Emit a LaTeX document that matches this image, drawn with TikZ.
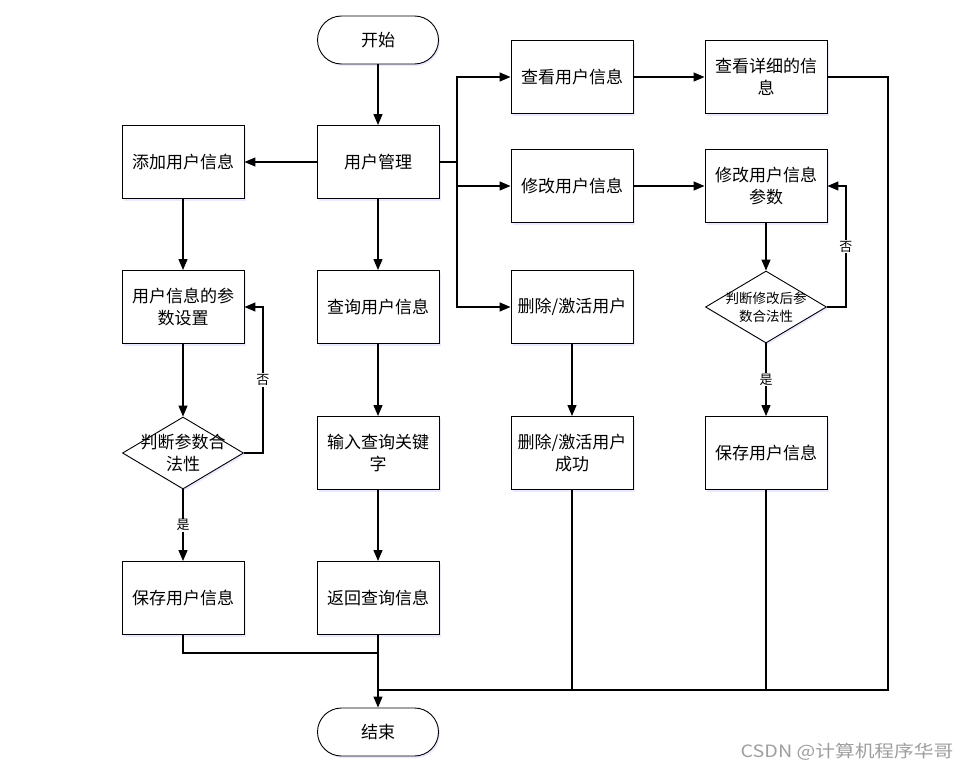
\documentclass[tikz,border=0pt]{standalone}
\usepackage{fontspec}
\setmainfont{Noto Sans CJK SC}
\usepackage{tikz}
\usetikzlibrary{arrows.meta, shapes.geometric, shadows}

\begin{document}
\begin{tikzpicture}[x=1pt, y=-1pt,
        every node/.style={font=\fontsize{17}{22}\selectfont},
        box/.style={draw, line width=0.9pt, fill=white, minimum width=122pt, minimum height=73pt, align=center, inner sep=2pt,
                drop shadow={shadow xshift=1.5pt, shadow yshift=-2pt, fill=blue!25, opacity=0.35}},
        term/.style={box, minimum width=121pt, minimum height=48pt, rounded corners=24pt},
        decision/.style={diamond, draw, line width=0.9pt, fill=white, minimum width=121pt, minimum height=72pt, inner sep=0pt,
                drop shadow={shadow xshift=1.5pt, shadow yshift=-2pt, fill=blue!25, opacity=0.35}},
        lab/.style={fill=white, inner sep=1pt, font=\fontsize{13}{15}\selectfont},
        line/.style={line width=1.3pt},
        arr/.style={line, -{Triangle[length=11pt, width=9pt]}}]

        \useasboundingbox (0,0) rectangle (970,771);

        \node[term] (start) at (378,40) {开始};
        \node[box] (manage) at (378,162) {用户管理};
        \node[box] (add) at (183,162) {添加用户信息};
        \node[box] (param) at (183,307) {用户信息的参\\数设置};
        \node[decision] (check) at (183,453) {};
        \node[align=center] at (check) {判断参数合\\法性};
        \node[box] (saveL) at (183,598) {保存用户信息};

        \node[box] (query) at (378,307) {查询用户信息};
        \node[box] (keyword) at (378,453) {输入查询关键\\字};
        \node[box] (result) at (378,598) {返回查询信息};
        \node[term] (end) at (378,732) {结束};

        \node[box] (view) at (572,77) {查看用户信息};
        \node[box] (detail) at (766,77) {查看详细的信\\息};
        \node[box] (modify) at (572,186) {修改用户信息};
        \node[box] (modparam) at (766,186) {修改用户信息\\参数};
        \node[box] (delete) at (572,307) {删除/激活用户};
        \node[decision] (modcheck) at (766,307) {};
        \node[align=center, font=\fontsize{13.5}{18}\selectfont] at (modcheck) {判断修改后参\\数合法性};
        \node[box] (deldone) at (572,453) {删除/激活用户\\成功};
        \node[box] (saveR) at (766,453) {保存用户信息};

        \coordinate (fork) at (457,162);
        \coordinate (joinL) at (378,653);
        \coordinate (joinM) at (378,690);
        \coordinate (joinR) at (888,690);

        \draw[arr] (start) -- (manage);
        \draw[arr] (manage) -- (add);
        \draw[arr] (add) -- (param);
        \draw[arr] (param) -- (check);
        \draw[arr] (check) -- node[lab] {是} (saveL);
        \draw[arr] (check.east) -- ++(19,0) |- node[lab, pos=0.25] {否} (param.east);

        \draw[arr] (manage) -- (query);
        \draw[arr] (query) -- (keyword);
        \draw[arr] (keyword) -- (result);
        \draw[line] (saveL.south) |- (joinL);
        \draw[arr] (result) -- (end);

        \draw[line] (manage.east) -- (fork);
        \draw[arr] (fork) |- (view.west);
        \draw[arr] (fork) |- (modify.west);
        \draw[arr] (fork) |- (delete.west);
        \draw[arr] (view) -- (detail);
        \draw[arr] (modify) -- (modparam);
        \draw[arr] (modparam) -- (modcheck);
        \draw[arr] (modcheck) -- node[lab] {是} (saveR);
        \draw[arr] (modcheck.east) -- ++(19,0) |- node[lab, pos=0.25] {否} (modparam.east);
        \draw[arr] (delete) -- (deldone);

        \draw[line] (detail.east) -| (joinR) -- (joinM);
        \draw[line] (deldone.south) -- (deldone.south |- joinM);
        \draw[line] (saveR.south) -- (saveR.south |- joinM);

        \node[text=black!38, font=\fontsize{17}{20}\selectfont, xscale=1.16] (mark) at (847,752) {CSDN @计算机程序华哥};
\end{tikzpicture}
\end{document}
